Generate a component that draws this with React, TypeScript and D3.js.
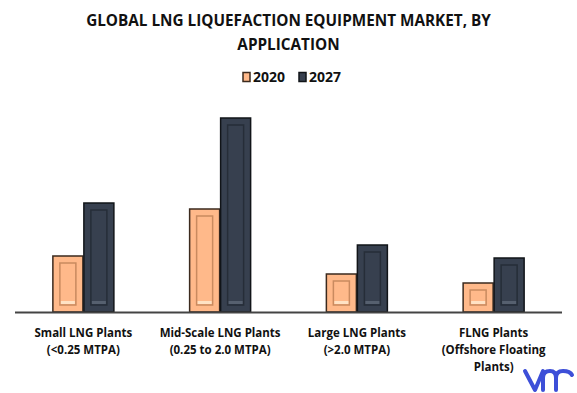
import { scaleBand, scaleLinear } from "d3"

const categories = [
  ["Small LNG Plants", "(<0.25 MTPA)"],
  ["Mid-Scale LNG Plants", "(0.25 to 2.0 MTPA)"],
  ["Large LNG Plants", "(>2.0 MTPA)"],
  ["FLNG Plants", "(Offshore Floating", "Plants)"],
]
const series = ["2020", "2027"]
const values2020 = [0.56, 1.03, 0.38, 0.29]
const values2027 = [1.09, 1.94, 0.67, 0.54]

const fills = ["#FFB98A", "#37404F"]
const edges = ["#3b2a1e", "#111418"]
const inner = ["#c98a5f", "#262d38"]
const font = "'Open Sans', 'DejaVu Sans', sans-serif"

function Bar({ x, y, w, h, s }: { x: number; y: number; w: number; h: number; s: number }) {
  const pad = Math.min(7, w / 4)
  return (
    <g>
      <rect x={x} y={y} width={w} height={h} fill={fills[s]} stroke={edges[s]} strokeWidth={1.5} />
      {h > pad * 2 + 4 && (
        <>
          <rect x={x + pad} y={y + pad} width={w - pad * 2} height={h - pad * 2} fill="none" stroke={inner[s]} strokeWidth={1.5} />
          <rect x={x + pad + 1} y={y + h - pad - 4} width={w - pad * 2 - 2} height={3} fill={s === 0 ? "#ffe2c4" : "#56606f"} />
        </>
      )}
    </g>
  )
}

export default function App() {
  const width = 577
  const height = 393
  const baseline = 312
  const x = scaleBand<number>().domain(categories.map((_, i) => i)).range([15, 562])
  const y = scaleLinear().domain([0, 1.94]).range([baseline, 118])
  const barW = 30
  const data = [values2020, values2027]

  return (
    <svg width={width} height={height} style={{ position: "absolute", left: 0, top: 0, background: "#fff" }}>
      <text x={width / 2} y={26} textAnchor="middle" fontFamily={font} fontWeight={700} fontSize={15.3} fill="#111">
        GLOBAL LNG LIQUEFACTION EQUIPMENT MARKET, BY
      </text>
      <text x={width / 2} y={50} textAnchor="middle" fontFamily={font} fontWeight={700} fontSize={15.3} fill="#111">
        APPLICATION
      </text>

      {series.map((s, i) => (
        <g key={s} transform={`translate(${243 + i * 56},77)`}>
          <rect x={0} y={-4.5} width={7} height={9} fill={fills[i]} stroke={edges[i]} strokeWidth={1.5} />
          <text x={10} y={5} fontFamily={font} fontWeight={700} fontSize={14} fill="#111">{s}</text>
        </g>
      ))}

      {categories.map((c, i) => {
        const cx = (x(i) ?? 0) + x.bandwidth() / 2
        return (
          <g key={i}>
            {data.map((vals, s) => (
              <Bar key={s} x={cx - barW - 0.5 + s * (barW + 1)} y={y(vals[i])} w={barW} h={baseline - y(vals[i])} s={s} />
            ))}
            {c.map((line, k) => (
              <text key={k} x={cx} y={337 + k * 17} textAnchor="middle" fontFamily={font} fontWeight={700} fontSize={11.5} fill="#111">
                {line}
              </text>
            ))}
          </g>
        )
      })}

      <line x1={15} x2={562} y1={baseline + 0.5} y2={baseline + 0.5} stroke="#444" strokeWidth={2} />

      <g fill="none" stroke="#3d4fd8" strokeWidth={4} strokeLinecap="round" strokeLinejoin="round">
        <path d="M525,371 L535,390 L543,371" />
        <path d="M543,390 L543,378 Q543,371 550,371 Q556,371 556,378 L556,390 M556,378 Q556,371 563,371 Q570,371 572,375" />
      </g>
    </svg>
  )
}
